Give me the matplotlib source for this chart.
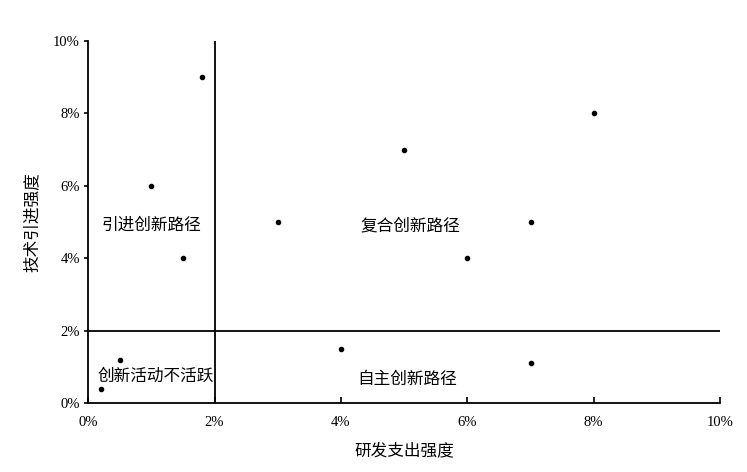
import matplotlib
matplotlib.use("Agg")
import matplotlib.pyplot as plt
from matplotlib.ticker import FuncFormatter

plt.rcParams['font.family'] = ['Noto Sans CJK SC', 'DejaVu Sans']

# R&D intensity (%) and technology import intensity (%)
rd_intensity = [0.2, 0.5, 1.0, 1.5, 1.8, 3.0, 4.0, 5.0, 6.0, 7.0, 7.0, 8.0]
tech_import = [0.4, 1.2, 6.0, 4.0, 9.0, 5.0, 1.5, 7.0, 4.0, 5.0, 1.1, 8.0]
threshold = 2.0

region_labels = ["引进创新路径", "复合创新路径", "创新活动不活跃", "自主创新路径"]
region_x = [1.0, 5.1, 1.07, 5.05]
region_y = [4.9, 4.9, 0.75, 0.65]

fig = plt.figure(figsize=(7.47, 4.72), dpi=100)
ax = fig.add_axes([0.118, 0.146, 0.846, 0.767])

ax.scatter(rd_intensity, tech_import, s=9, color="black", zorder=3)
ax.axvline(threshold, color="black", linewidth=1.3)
ax.axhline(threshold, color="black", linewidth=1.3)

for lbl, x, y in zip(region_labels, region_x, region_y):
    ax.text(x, y, lbl, ha="center", va="center", fontsize=12)

ax.set_xlim(0, 10)
ax.set_ylim(0, 10)
ax.set_xticks([0, 2, 4, 6, 8, 10])
ax.set_yticks([0, 2, 4, 6, 8, 10])
pct = FuncFormatter(lambda v, p: f"{v:.0f}%")
ax.xaxis.set_major_formatter(pct)
ax.yaxis.set_major_formatter(pct)
for t in ax.get_xticklabels() + ax.get_yticklabels():
    t.set_family("Liberation Serif")
    t.set_fontsize(10.5)
ax.tick_params(axis="x", direction="in", length=4, width=1.2, pad=9)
ax.tick_params(axis="y", direction="out", length=3, width=1.2, pad=3)

ax.spines["top"].set_visible(False)
ax.spines["right"].set_visible(False)
ax.spines["left"].set_linewidth(1.3)
ax.spines["bottom"].set_linewidth(1.3)

ax.set_xlabel("研发支出强度", fontsize=12, labelpad=10)
ax.set_ylabel("技术引进强度", fontsize=12, labelpad=9)

fig.savefig("out.png", dpi=100)
